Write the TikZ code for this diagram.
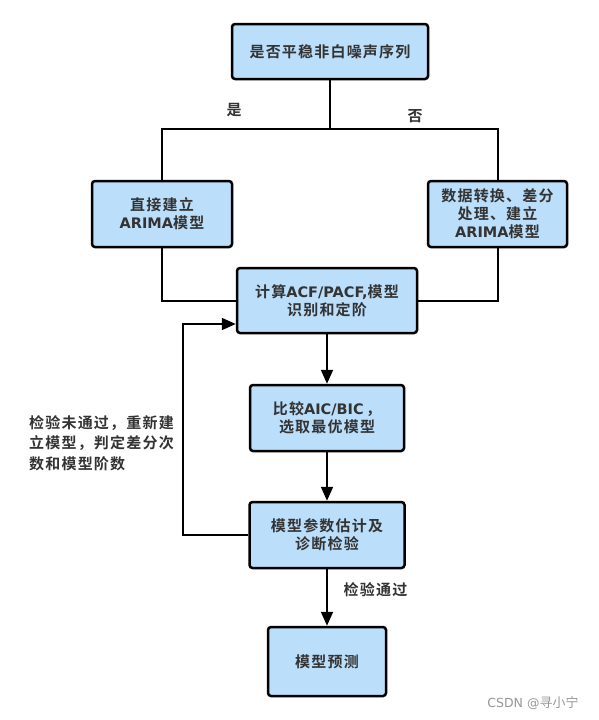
\documentclass[tikz,border=0pt]{standalone}
\usepackage{fontspec}
\usetikzlibrary{arrows.meta}
\newfontfamily\cjk[LetterSpace=8]{Noto Sans CJK SC Bold}
\newfontfamily\cjkr{Noto Sans CJK SC}
\newfontfamily\lat{DejaVu Sans Bold}
\newfontfamily\latr{DejaVu Sans}
\newcommand{\latpart}[1]{{\lat\fontsize{14.5}{18}\selectfont #1}}
\definecolor{boxfill}{RGB}{187,222,250}
\definecolor{txt}{RGB}{51,51,51}
\begin{document}
\begin{tikzpicture}[x=1pt,y=-1pt,
  box/.style={draw=black,line width=2.5pt,rounded corners=3pt,fill=boxfill,
    text=txt,align=center,inner sep=0pt,
    font={\cjk\fontsize{15}{18}\selectfont}},
  lbl/.style={text=txt,inner sep=0pt,font={\cjk\fontsize{15}{20.5}\selectfont}},
  conn/.style={line width=2pt,draw=black},
  arr/.style={conn,-{Triangle[length=14pt,width=12pt]}}]
\useasboundingbox (0,0) rectangle (598,720);
\node[box,minimum width=196pt,minimum height=55pt] (top) at (330,51.5) {是否平稳非白噪声序列};
\node[box,minimum width=140pt,minimum height=66pt] (left) at (162,214) {直接建立\\\latpart{ARIMA}模型};
\node[box,minimum width=139pt,minimum height=66pt] (right) at (497.5,214) {数据转换、差分\\处理、建立\\\latpart{ARIMA}模型};
\node[box,minimum width=180pt,minimum height=65pt] (acf) at (327,300.5) {计算\latpart{ACF/PACF,}模型\\识别和定阶};
\node[box,minimum width=154pt,minimum height=66pt] (aic) at (327,418) {比较\latpart{AIC/BIC}\,，\\选取最优模型};
\node[box,minimum width=155pt,minimum height=66pt] (diag) at (327,535) {模型参数估计及\\诊断检验};
\node[box,minimum width=118pt,minimum height=69pt] (pred) at (327,661.5) {模型预测};
\coordinate (split) at (330,129);
\coordinate (fb1) at (183,535);
\coordinate (fb2) at (183,324);
\draw[conn] (top.south) -- (split);
\draw[conn] (split) -| (left.north);
\draw[conn] (split) -| (right.north);
\draw[conn] (left.south) |- (acf.west);
\draw[conn] (right.south) |- (acf.east);
\draw[arr] (acf.south) -- (aic.north);
\draw[arr] (aic.south) -- (diag.north);
\draw[arr] (diag.south) -- (pred.north);
\draw[arr] (diag.west) -- (fb1) -- (fb2) -- (fb2 -| acf.west);
\node[lbl] (yes) at (234,110) {是};
\node[lbl] (no) at (415,116) {否};
\node[lbl] (pass) at (375.5,590) {检验通过};
\node[lbl,align=left,anchor=west] (fail) at (29,443) {检验未通过，重新建\\立模型，判定差分次\\数和模型阶数};
\node[text={rgb,255:red,150;green,150;blue,150},inner sep=0pt,font={\cjkr\fontsize{13}{15}\selectfont}] (wm) at (533,703) {{\latr\fontsize{12.5}{15}\selectfont CSDN @}寻小宁};
\end{tikzpicture}
\end{document}
